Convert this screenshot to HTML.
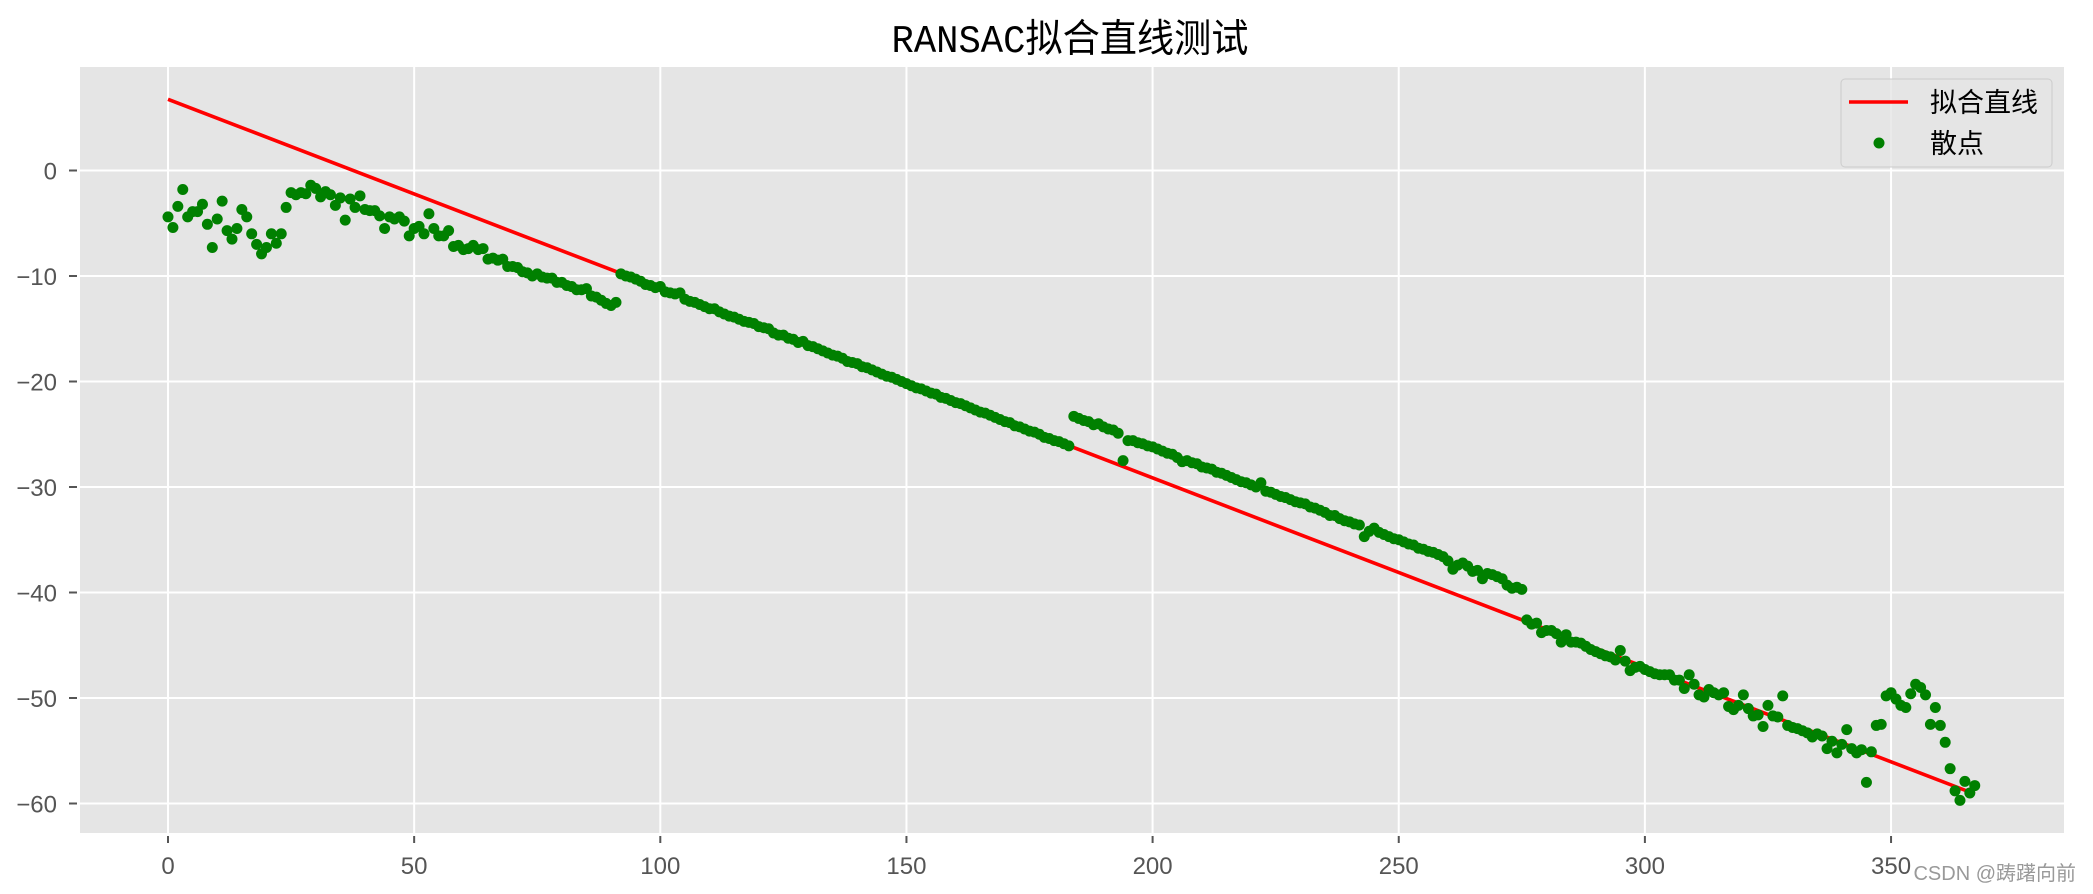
<!DOCTYPE html>
<html><head><meta charset="utf-8"><style>
html,body{margin:0;padding:0;background:#fff;}
svg{display:block;}
</style></head><body>
<svg id="chart" width="2093" height="894" xmlns="http://www.w3.org/2000/svg">
<rect x="0" y="0" width="2093" height="894" fill="#ffffff"/>
<text x="1070" y="52" text-anchor="middle" font-family="'Liberation Mono','Noto Sans CJK SC',monospace" font-size="39" textLength="357" lengthAdjust="spacingAndGlyphs" fill="#000">RANSAC拟合直线测试</text>
<rect x="80" y="67" width="1984" height="766" fill="#e5e5e5"/>
<g id="grid"></g>
<g id="ticks"></g>
<line id="fitline" stroke="#ff0000" stroke-width="3.6"/>
<g id="dots"></g>
<g>
<rect x="1841" y="79" width="211" height="88" rx="4" fill="#e5e5e5" fill-opacity="0.8" stroke="#cccccc" stroke-width="1"/>
<line x1="1849" y1="102" x2="1908" y2="102" stroke="#ff0000" stroke-width="3.6"/>
<text x="1930" y="112" font-family="'Liberation Sans','Noto Sans CJK SC',sans-serif" font-size="27" fill="#000">拟合直线</text>
<circle cx="1879" cy="143" r="5.5" fill="#008000"/>
<text x="1930" y="153" font-family="'Liberation Sans','Noto Sans CJK SC',sans-serif" font-size="27" fill="#000">散点</text>
</g>
<text x="2076" y="880" text-anchor="end" font-family="'Liberation Sans','Noto Sans CJK SC',sans-serif" font-size="20" fill="#999">CSDN @踌躇向前</text>
</svg>
<script>
const xTicks = [0, 50, 100, 150, 200, 250, 300, 350];
const yTicks = [0, -10, -20, -30, -40, -50, -60];
const lineEnds = [[0, 6.75], [367, -59.1]];
const yA = [-4.4,-5.4,-3.4,-1.8,-4.4,-3.9,-3.9,-3.2,-5.1,-7.3,-4.6,-2.9,-5.7,-6.5,-5.5,-3.7,-4.4,-6.0,-7.0,-7.9,-7.3,-6.0,-6.9,-6.0,-3.5,-2.1,-2.3,-2.1,-2.2,-1.4,-1.7,-2.5,-2.0,-2.3,-3.3,-2.6,-4.7,-2.7,-3.5,-2.4,-3.7,-3.8,-3.8,-4.3,-5.5,-4.4,-4.6,-4.4,-4.8,-6.2,-5.5,-5.3,-6.0,-4.1,-5.5,-6.2,-6.2,-5.7,-7.2,-7.1,-7.5,-7.4,-7.1,-7.5,-7.4,-8.4,-8.3,-8.5,-8.4,-9.1,-9.1,-9.2,-9.6,-9.7,-10.0,-9.8,-10.1,-10.2,-10.2,-10.6,-10.6,-10.9,-11.0,-11.3,-11.3,-11.2,-11.9,-12.0,-12.3,-12.6,-12.8,-12.5];
const yB = [-9.8,-10.0,-10.1,-10.3,-10.5,-10.8,-10.9,-11.1,-11.0,-11.5,-11.6,-11.7,-11.6,-12.2,-12.4,-12.5,-12.7,-12.9,-13.1,-13.1,-13.4,-13.6,-13.8,-13.9,-14.1,-14.3,-14.4,-14.5,-14.8,-14.9,-15.0,-15.4,-15.6,-15.6,-15.9,-16.0,-16.3,-16.2,-16.6,-16.7,-16.9,-17.1,-17.3,-17.5,-17.6,-17.8,-18.1,-18.2,-18.3,-18.6,-18.7,-18.9,-19.1,-19.3,-19.5,-19.6,-19.8,-20.0,-20.2,-20.4,-20.6,-20.7,-20.9,-21.1,-21.2,-21.5,-21.6,-21.8,-22.0,-22.1,-22.3,-22.5,-22.7,-22.9,-23.0,-23.2,-23.4,-23.6,-23.8,-23.9,-24.2,-24.3,-24.5,-24.7,-24.8,-25.0,-25.3,-25.4,-25.6,-25.7,-25.9,-26.1];
const yC = [-23.3,-23.5,-23.7,-23.8,-24.1,-24.0,-24.3,-24.5,-24.6,-24.9,-27.5,-25.6,-25.6,-25.8,-25.9,-26.1,-26.2,-26.4,-26.6,-26.8,-26.9,-27.2,-27.6,-27.5,-27.7,-27.8,-28.1,-28.2,-28.3,-28.6,-28.7,-28.9,-29.1,-29.3,-29.5,-29.6,-29.8,-30.0,-29.6,-30.4,-30.5,-30.7,-30.9,-31.0,-31.2,-31.4,-31.5,-31.6,-31.9,-32.0,-32.2,-32.4,-32.7,-32.7,-33.0,-33.2,-33.3,-33.5,-33.6,-34.7,-34.2,-33.9,-34.3,-34.5,-34.7,-34.9,-35.0,-35.2,-35.4,-35.5,-35.8,-35.9,-36.1,-36.2,-36.4,-36.6,-37.0,-37.8,-37.4,-37.2,-37.5,-38.0,-37.9,-38.7,-38.2,-38.3,-38.5,-38.7,-39.3,-39.6,-39.5,-39.7];
const yD = [-42.6,-43.0,-42.9,-43.8,-43.6,-43.6,-43.9,-44.7,-44.0,-44.7,-44.7,-44.8,-45.1,-45.4,-45.6,-45.8,-46.0,-46.1,-46.4,-45.5,-46.5,-47.4,-47.1,-47.0,-47.3,-47.5,-47.7,-47.8,-47.8,-47.8,-48.3,-48.3,-49.1,-47.8,-48.7,-49.7,-49.9,-49.2,-49.5,-49.7,-49.5,-50.8,-51.1,-50.7,-49.7,-51.0,-51.7,-51.6,-52.7,-50.7,-51.7,-51.8,-49.8,-52.6,-52.8,-52.9,-53.1,-53.3,-53.7,-53.4,-53.6,-54.8,-54.1,-55.2,-54.4,-53.0,-54.8,-55.2,-54.9,-58.0,-55.1,-52.6,-52.5,-49.8,-49.5,-50.1,-50.7,-50.9,-49.6,-48.7,-49.0,-49.7,-52.5,-50.9,-52.6,-54.2,-56.7,-58.8,-59.7,-57.9,-59.0,-58.3];
const yVals = yA.concat(yB, yC, yD);

const NS = 'http://www.w3.org/2000/svg';
const X0 = 168, XS = 4.923, Y0 = 170.5, YS = 10.55;
function sx(v){ return X0 + v * XS; }
function sy(v){ return Y0 - v * YS; }
function mk(tag, attrs, parent){
  const e = document.createElementNS(NS, tag);
  for (const k in attrs) e.setAttribute(k, attrs[k]);
  parent.appendChild(e);
  return e;
}
const grid = document.getElementById('grid');
const ticks = document.getElementById('ticks');
xTicks.forEach(function(t){
  const g = mk('line', {x1: sx(t), x2: sx(t), y1: 67, y2: 833, stroke: '#fff', 'stroke-width': 2}, grid);
  
  
  const tm = mk('line', {x1: sx(t), x2: sx(t), y1: 836, y2: 843, stroke: '#555', 'stroke-width': 2}, ticks);
  
  
  const lb = mk('text', {x: sx(t), y: 874, 'text-anchor': 'middle', 'font-family': "'Liberation Sans',sans-serif", 'font-size': 24, fill: '#555'}, ticks);
  lb.textContent = String(t);
  
  
});
yTicks.forEach(function(t){
  const g = mk('line', {x1: 80, x2: 2064, y1: sy(t), y2: sy(t), stroke: '#fff', 'stroke-width': 2}, grid);
  
  
  const tm = mk('line', {x1: 69, x2: 77, y1: sy(t), y2: sy(t), stroke: '#555', 'stroke-width': 2}, ticks);
  
  
  const lb = mk('text', {x: 57, y: sy(t) + 9, 'text-anchor': 'end', 'font-family': "'Liberation Sans',sans-serif", 'font-size': 24, fill: '#555'}, ticks);
  lb.textContent = t < 0 ? '\u2212' + Math.abs(t) : String(t);
  
  
});
const fl = document.getElementById('fitline');
fl.setAttribute('x1', sx(lineEnds[0][0])); fl.setAttribute('y1', sy(lineEnds[0][1]));
fl.setAttribute('x2', sx(lineEnds[1][0])); fl.setAttribute('y2', sy(lineEnds[1][1]));
const dots = document.getElementById('dots');
yVals.forEach(function(v, i){
  const c = mk('circle', {cx: sx(i), cy: sy(v), r: 5.5, fill: '#008000'}, dots);
  
  
});
</script>
</body></html>
